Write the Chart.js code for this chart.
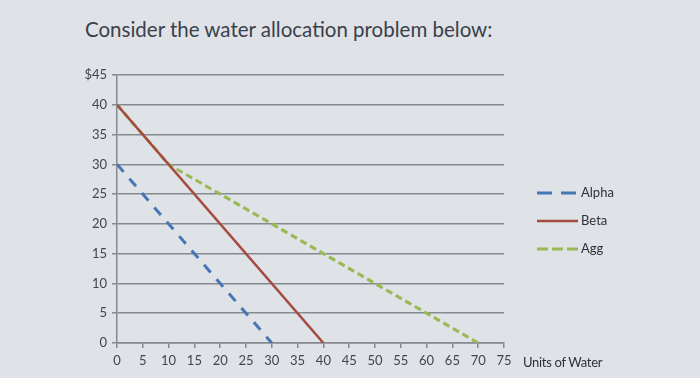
<!DOCTYPE html>
<html>
<head>
<meta charset="utf-8">
<script src="https://cdn.jsdelivr.net/npm/chart.js@4/dist/chart.umd.min.js"></script>
<style>
  html, body { margin: 0; padding: 0; background: #dfe2e6; }
  #wrap { position: relative; width: 700px; height: 378px; overflow: hidden; }
  #title { position: absolute; left: 85px; top: 17px; font: 20.5px Lato, sans-serif; color: #3a414c; white-space: nowrap; }
  #xname { position: absolute; left: 523px; top: 354px; font: 13px Lato, sans-serif; color: #2e3238; white-space: nowrap; letter-spacing: -0.3px; }
  canvas { position: absolute; left: 0; top: 0; }
</style>
</head>
<body>
<div id="wrap">
  <div id="title">Consider the water allocation problem below:</div>
  <canvas id="chart" width="700" height="378"></canvas>
  <div id="xname">Units of Water</div>
</div>
<script>
// demand curves, price vs units of water

var seriesNames = ["Alpha", "Beta", "Agg"];
var alphaQ = [0, 30];
var alphaP = [30, 0];
var betaQ = [0, 40];
var betaP = [40, 0];
var aggQ = [0, 10, 70];
var aggP = [40, 30, 0];
var xTicks = [0, 5, 10, 15, 20, 25, 30, 35, 40, 45, 50, 55, 60, 65, 70, 75];
var yTicks = [0, 5, 10, 15, 20, 25, 30, 35, 40, 45];

function pts(q, p) {
  return q.map((d, i) => ({ x: d, y: p[i] }));
}

var styles = [
  { color: "#4676b4", dash: [10, 9], legendDash: [15, 9], width: 3 },
  { color: "#a44a3f", dash: [], legendDash: [], width: 2.5 },
  { color: "#98b954", dash: [7, 4], legendDash: [11, 4], width: 3 }
];

var datasets = [pts(alphaQ, alphaP), pts(betaQ, betaP), pts(aggQ, aggP)].map((data, i) => {
  return {
    label: seriesNames[i],
    data: data,
    borderColor: styles[i].color,
    borderDash: styles[i].dash,
    borderWidth: styles[i].width,
    pointRadius: 0,
    fill: false,
    tension: 0
  }
});

// legend drawn at a fixed spot on the right, like the original
var sideLegend = {
  id: "sideLegend",
  afterDraw(chart) {
    var ctx = chart.ctx;
    ctx.save();
    chart.data.datasets.forEach((ds, i) => {
      var y = 193 + i * 28;
      ctx.beginPath();
      ctx.setLineDash(styles[i].legendDash);
      ctx.lineWidth = ds.borderWidth;
      ctx.strokeStyle = ds.borderColor;
      ctx.moveTo(537, y);
      ctx.lineTo(578, y);
      ctx.stroke();
      ctx.setLineDash([]);
      ctx.fillStyle = "#2e3238";
      ctx.font = "13px Lato, sans-serif";
      ctx.textBaseline = "middle";
      ctx.fillText(ds.label, 581, y);
    });
    ctx.restore();
  }
};

var gridColor = "#858a90";

new Chart(document.getElementById("chart").getContext("2d"), {
  type: "line",
  data: { datasets: datasets },
  plugins: [sideLegend],
  options: {
    responsive: false,
    animation: false,
    layout: { padding: { top: 75, left: 0, right: 196, bottom: 0 } },
    plugins: { legend: { display: false }, tooltip: { enabled: false } },
    scales: {
      x: {
        type: "linear",
        min: xTicks[0],
        max: xTicks[xTicks.length - 1],
        afterBuildTicks: (s) => { s.ticks = xTicks.map(v => ({ value: v })); },
        afterFit: (s) => { s.height = 35; },
        grid: { drawOnChartArea: false, drawTicks: true, tickLength: 5, color: gridColor, lineWidth: 1.5 },
        border: { color: gridColor, width: 1.5 },
        ticks: { color: "#41464e", font: { family: "Lato", size: 13 }, padding: 5, maxRotation: 0, autoSkip: false }
      },
      y: {
        type: "linear",
        min: yTicks[0],
        max: yTicks[yTicks.length - 1],
        afterBuildTicks: (s) => { s.ticks = yTicks.map(v => ({ value: v })); },
        afterFit: (s) => { s.width = 117; },
        grid: { drawOnChartArea: true, drawTicks: true, tickLength: 5, color: gridColor, lineWidth: 1.5 },
        border: { color: gridColor, width: 1.5 },
        ticks: {
          color: "#41464e",
          font: { family: "Lato", size: 13 },
          padding: 5,
          callback: (v) => v === 45 ? "$45" : v
        }
      }
    }
  }
});
</script>
</body>
</html>
